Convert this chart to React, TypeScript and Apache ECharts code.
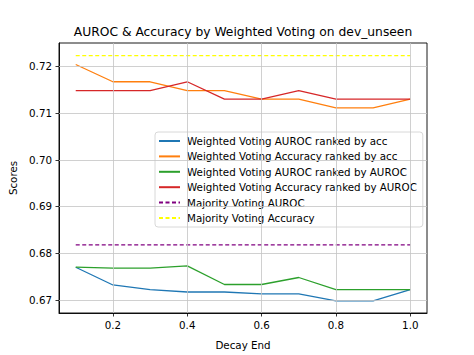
import React, { useEffect, useRef } from "react";
import * as echarts from "echarts";

const decayEnd = [0.1, 0.2, 0.3, 0.4, 0.5, 0.6, 0.7, 0.8, 0.9, 1.0];
const aurocByAcc = [0.6770, 0.6732, 0.6722, 0.6717, 0.6717, 0.6713, 0.6713, 0.6698, 0.6698, 0.6722];
const accByAcc = [0.7204, 0.7167, 0.7167, 0.7148, 0.7148, 0.7130, 0.7130, 0.7111, 0.7111, 0.7130];
const aurocByAuroc = [0.6770, 0.6768, 0.6768, 0.6773, 0.6733, 0.6733, 0.6748, 0.6722, 0.6722, 0.6722];
const accByAuroc = [0.7148, 0.7148, 0.7148, 0.7167, 0.7130, 0.7130, 0.7148, 0.7130, 0.7130, 0.7130];
const majorityAuroc = 0.6818;
const majorityAcc = 0.7223;

const xTicks = [0.2, 0.4, 0.6, 0.8, 1.0];
const yTicks = [0.67, 0.68, 0.69, 0.7, 0.71, 0.72];

const names = [
  "Weighted Voting AUROC ranked by acc",
  "Weighted Voting Accuracy ranked by acc",
  "Weighted Voting AUROC ranked by AUROC",
  "Weighted Voting Accuracy ranked by AUROC",
  "Majority Voting AUROC",
  "Majority Voting Accuracy",
];

const FONT = "DejaVu Sans";

export default function App() {
  const ref = useRef<HTMLDivElement>(null);
  useEffect(() => {
    document.body.style.margin = "0";
    if (!ref.current) return;
    const chart = echarts.init(ref.current, null, { renderer: "svg" });
    const pair = (ys: number[]) => decayEnd.map((x, i) => [x, ys[i]]);
    const lw = 1.3;
    const mk = (name: string, data: number[][], color: string, dashed = false) => ({
      name,
      type: "line",
      data,
      symbol: "none",
      showSymbol: false,
      z: 3,
      lineStyle: { color, width: lw, type: dashed ? [4, 2.5] : "solid" },
      itemStyle: { color },
    });
    chart.setOption({
      animation: false,
      backgroundColor: "#ffffff",
      textStyle: { fontFamily: FONT },
      graphic: [
        {
          type: "text",
          x: 243,
          y: 32,
          style: {
            text: "AUROC & Accuracy by Weighted Voting on dev_unseen",
            align: "center",
            verticalAlign: "middle",
            font: `12.3px '${FONT}'`,
            fill: "#000",
          },
        },
      ],
      grid: {
        left: 59,
        right: 47,
        top: 43,
        bottom: 40,
        show: true,
        borderColor: "#000",
        borderWidth: 0.9,
        backgroundColor: "transparent",
      },
      legend: {
        orient: "vertical",
        left: 155,
        top: 132,
        data: names,
        itemWidth: 21,
        itemHeight: 10,
        itemGap: 5.4,
        padding: [4, 6, 4, 3],
        backgroundColor: "rgba(255,255,255,0.85)",
        borderColor: "#d8d8d8",
        borderWidth: 1,
        borderRadius: 3,
        itemStyle: { opacity: 0 },
        textStyle: { fontFamily: FONT, fontSize: 10.3, color: "#000", padding: [0, 0, 0, 2] },
      },
      xAxis: {
        type: "value",
        min: 0.055,
        max: 1.045,
        name: "Decay End",
        nameLocation: "middle",
        nameGap: 27,
        nameTextStyle: { fontFamily: FONT, fontSize: 10.3, color: "#000" },
        axisLine: { show: true, lineStyle: { color: "#000", width: 0.9 } },
        axisTick: { show: true, customValues: xTicks, length: 3.5, lineStyle: { color: "#000", width: 0.8 } },
        axisLabel: {
          customValues: xTicks,
          formatter: (v: number) => v.toFixed(1),
          fontFamily: FONT,
          fontSize: 10.3,
          color: "#000",
          margin: 7,
        },
        splitLine: { show: false },
      },
      yAxis: {
        type: "value",
        min: 0.6672,
        max: 0.7250,
        name: "Scores",
        nameLocation: "middle",
        nameGap: 39,
        nameTextStyle: { fontFamily: FONT, fontSize: 10.3, color: "#000" },
        axisLine: { show: true, lineStyle: { color: "#000", width: 0.9 } },
        axisTick: { show: true, customValues: yTicks, length: 3.5, lineStyle: { color: "#000", width: 0.8 } },
        axisLabel: {
          customValues: yTicks,
          formatter: (v: number) => v.toFixed(2),
          fontFamily: FONT,
          fontSize: 10.3,
          color: "#000",
          margin: 7,
        },
        splitLine: { show: false },
      },
      series: [
        {
          name: "grid",
          type: "line",
          data: [],
          z: 1,
          silent: true,
          markLine: {
            silent: true,
            symbol: "none",
            label: { show: false },
            lineStyle: { type: "solid", color: "#c4c4c4", width: 0.8 },
            data: [
              ...xTicks.map((v) => ({ xAxis: v })),
              ...yTicks.map((v) => ({ yAxis: v })),
            ],
          },
        },
        mk(names[0], pair(aurocByAcc), "#1f77b4"),
        mk(names[1], pair(accByAcc), "#ff7f0e"),
        mk(names[2], pair(aurocByAuroc), "#2ca02c"),
        mk(names[3], pair(accByAuroc), "#d62728"),
        mk(names[4], decayEnd.map((x) => [x, majorityAuroc]), "#800080", true),
        mk(names[5], decayEnd.map((x) => [x, majorityAcc]), "#ffff00", true),
      ],
    });
    return () => chart.dispose();
  }, []);
  return <div ref={ref} style={{ width: 474, height: 355 }} />;
}
